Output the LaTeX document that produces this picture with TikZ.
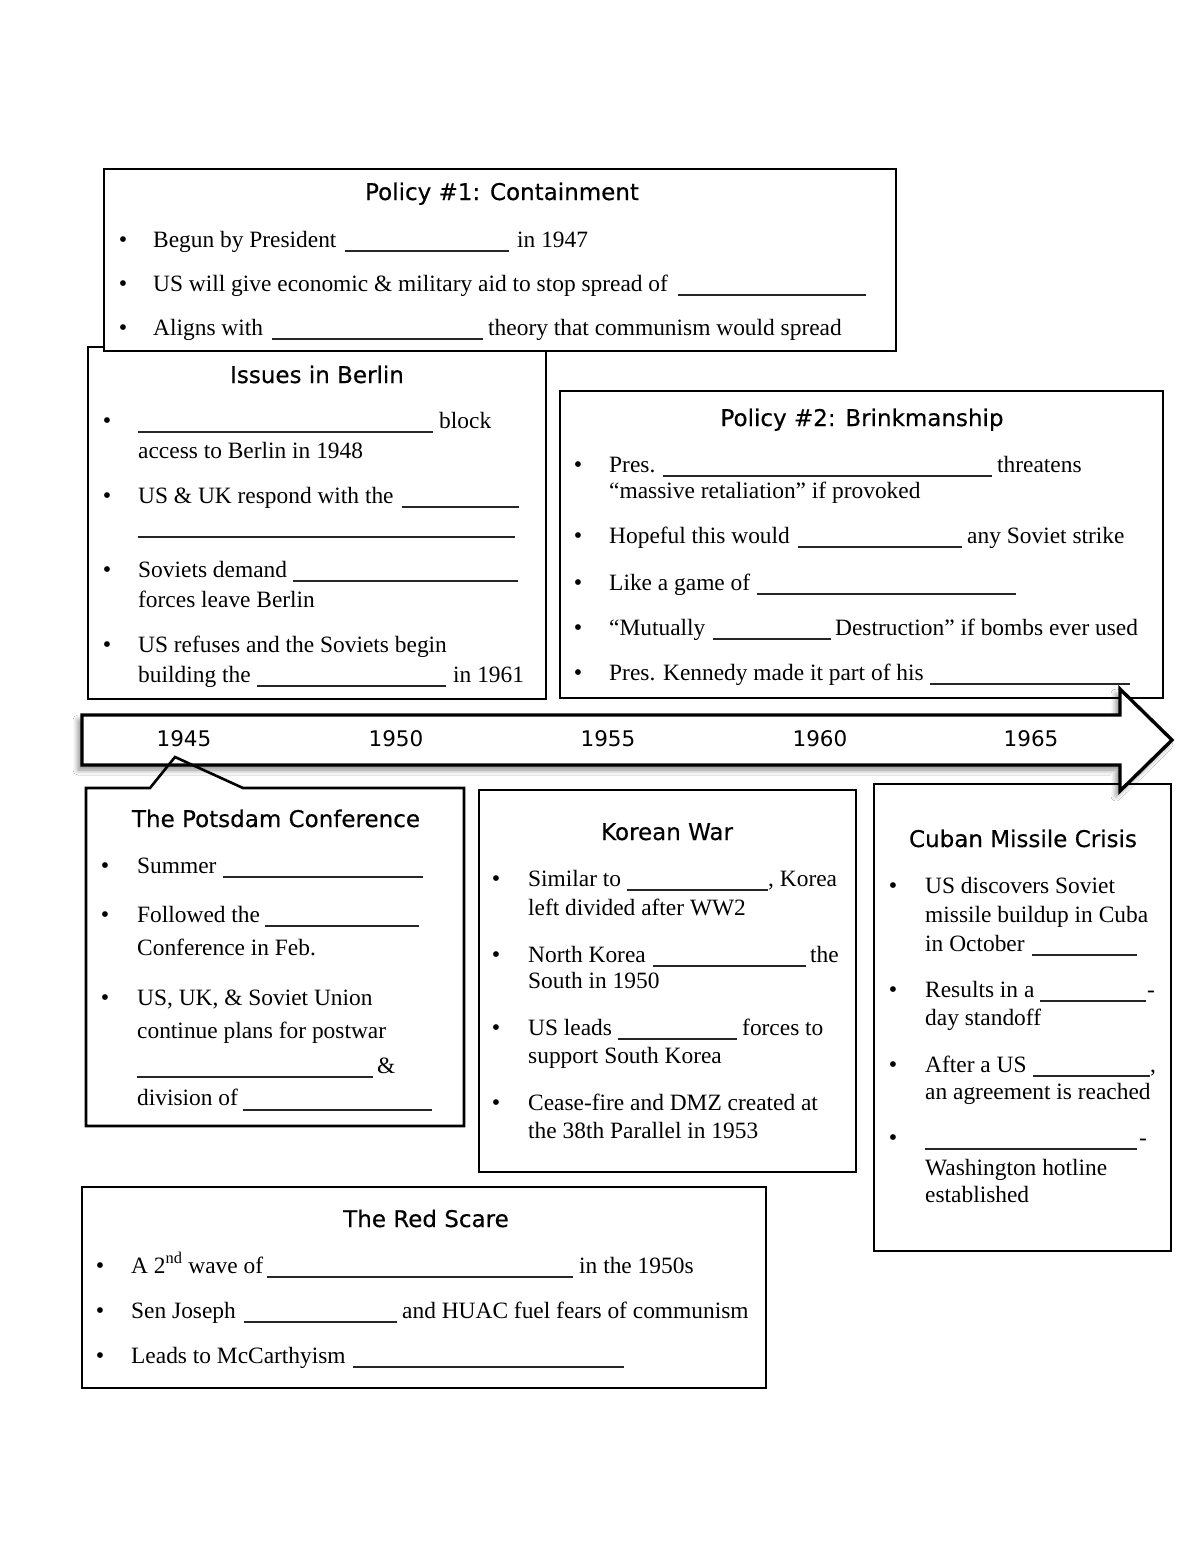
\documentclass[tikz,border=0pt]{standalone}
\usepackage{fontspec}
\setmainfont{Liberation Serif}
\newfontfamily\mySans[FakeBold=0.4]{DejaVu Sans}
\newfontfamily\myYearFam{DejaVu Sans}
\usetikzlibrary{shadows.blur}
\newcommand\myBody{\fontsize{23.4}{27}\selectfont}
\newcommand\myTitle{\mySans\fontsize{23}{27}\selectfont}
\newcommand\myYear{\myYearFam\fontsize{21.5}{26}\selectfont}
\newcommand\myBul{\fontsize{24}{26}\selectfont}
\begin{document}
\begin{tikzpicture}[x=1pt,y=-1pt,
  box/.style={draw=black, line width=2.6pt},
  body/.style={font=\myBody, anchor=base west, inner sep=0pt},
  ttl/.style={font=\myTitle, anchor=base, inner sep=0pt},
  bul/.style={font=\myBul, anchor=base, inner sep=0pt},
  yr/.style={font=\myYear, anchor=base, inner sep=0pt},
  blank/.style={line width=1.4pt, draw=black!85}]
\fill[white] (0,0) rectangle (1200,1553);
\useasboundingbox (0,0) rectangle (1200,1553);

% ---------- Issues in Berlin ----------
\draw[box] (88,347) rectangle (546,699);
\node[ttl] (bt) at (317,383) {Issues in Berlin};
\foreach \yy/\nm in {428/b1,503/b2,577/b3,652/b4} \node[bul] (bb\nm) at (107,\yy) {•};
\draw[blank] (138,432) -- (433,432);
\node[body] (b1a) at (439,428) {block};
\node[body] (b1b) at (138,458) {access to Berlin in 1948};
\node[body] (b2a) at (138,503) {US \& UK respond with the};
\draw[blank] (402,507) -- (519,507);
\draw[blank] (138,537) -- (515,537);
\node[body] (b3a) at (138,577) {Soviets demand};
\draw[blank] (293,581) -- (518,581);
\node[body] (b3b) at (138,607) {forces leave Berlin};
\node[body] (b4a) at (138,652) {US refuses and the Soviets begin};
\node[body] (b4b) at (138,682) {building the};
\draw[blank] (257,686) -- (446,686);
\node[body] (b4c) at (453,682) {in 1961};

% ---------- Policy #1: Containment ----------
\draw[box, fill=white] (104,169) rectangle (896,351);
\node[ttl] (ct) at (502,200) {Policy \#1: Containment};
\foreach \yy/\nm in {247/c1,291/c2,335/c3} \node[bul] (bb\nm) at (123,\yy) {•};
\node[body] (c1a) at (153,247) {Begun by President};
\draw[blank] (345,251) -- (509,251);
\node[body] (c1b) at (517,247) {in 1947};
\node[body] (c2a) at (153,291) {US will give economic \& military aid to stop spread of};
\draw[blank] (678,295) -- (866,295);
\node[body] (c3a) at (153,335) {Aligns with};
\draw[blank] (272,339) -- (483,339);
\node[body] (c3b) at (488,335) {theory that communism would spread};

% ---------- Policy #2: Brinkmanship ----------
\draw[box] (560,391) rectangle (1163,698);
\node[ttl] (pt) at (862,426) {Policy \#2: Brinkmanship};
\foreach \yy/\nm in {472/p1,543/p2,590/p3,635/p4,680/p5} \node[bul] (bb\nm) at (578,\yy) {•};
\node[body] (p1a) at (609,472) {Pres.};
\draw[blank] (663,476) -- (992,476);
\node[body] (p1b) at (997,472) {threatens};
\node[body] (p1c) at (609,498) {“massive retaliation” if provoked};
\node[body] (p2a) at (609,543) {Hopeful this would};
\draw[blank] (798,547) -- (962,547);
\node[body] (p2b) at (967,543) {any Soviet strike};
\node[body] (p3a) at (609,590) {Like a game of};
\draw[blank] (757,594) -- (1016,594);
\node[body] (p4a) at (609,635) {“Mutually};
\draw[blank] (713,639) -- (831,639);
\node[body] (p4b) at (835,635) {Destruction” if bombs ever used};
\node[body] (p5a) at (609,680) {Pres. Kennedy made it part of his};
\draw[blank] (930,684) -- (1130,684);

% ---------- Korean War ----------
\draw[box] (479,790) rectangle (856,1172);
\node[ttl] (kt) at (667,840) {Korean War};
\foreach \yy/\nm in {886/k1,962/k2,1035/k3,1110/k4} \node[bul] (bb\nm) at (496,\yy) {•};
\node[body] (k1a) at (528,886) {Similar to};
\draw[blank] (627,890) -- (768,890);
\node[body] (k1b) at (768,886) {, Korea};
\node[body] (k1c) at (528,915) {left divided after WW2};
\node[body] (k2a) at (528,962) {North Korea};
\draw[blank] (653,966) -- (806,966);
\node[body] (k2b) at (810,962) {the};
\node[body] (k2c) at (528,988) {South in 1950};
\node[body] (k3a) at (528,1035) {US leads};
\draw[blank] (618,1039) -- (737,1039);
\node[body] (k3b) at (742,1035) {forces to};
\node[body] (k3c) at (528,1063) {support South Korea};
\node[body] (k4a) at (528,1110) {Cease-fire and DMZ created at};
\node[body] (k4b) at (528,1138) {the 38th Parallel in 1953};

% ---------- Cuban Missile Crisis ----------
\draw[box] (874,784) rectangle (1171,1251);
\node[ttl] (ut) at (1023,847) {Cuban Missile Crisis};
\foreach \yy/\nm in {893/u1,997/u2,1072/u3,1145/u4} \node[bul] (bb\nm) at (893,\yy) {•};
\node[body] (u1a) at (925,893) {US discovers Soviet};
\node[body] (u1b) at (925,922) {missile buildup in Cuba};
\node[body] (u1c) at (925,951) {in October};
\draw[blank] (1032,955) -- (1137,955);
\node[body] (u2a) at (925,997) {Results in a};
\draw[blank] (1040,1001) -- (1146,1001);
\node[body] (u2b) at (1147,997) {-};
\node[body] (u2c) at (925,1025) {day standoff};
\node[body] (u3a) at (925,1072) {After a US};
\draw[blank] (1033,1076) -- (1150,1076);
\node[body] (u3b) at (1150,1072) {,};
\node[body] (u3c) at (925,1099) {an agreement is reached};
\draw[blank] (925,1149) -- (1137,1149);
\node[body] (u4a) at (1139,1145) {-};
\node[body] (u4b) at (925,1175) {Washington hotline};
\node[body] (u4c) at (925,1202) {established};

% ---------- The Red Scare ----------
\draw[box] (82,1187) rectangle (766,1388);
\node[ttl] (rt) at (426,1227) {The Red Scare};
\foreach \yy/\nm in {1273/r1,1318/r2,1363/r3} \node[bul] (bb\nm) at (100,\yy) {•};
\node[body] (r1a) at (131,1273) {A 2\textsuperscript{nd} wave of};
\draw[blank] (267,1277) -- (573,1277);
\node[body] (r1b) at (579,1273) {in the 1950s};
\node[body] (r2a) at (131,1318) {Sen Joseph};
\draw[blank] (244,1322) -- (397,1322);
\node[body] (r2b) at (402,1318) {and HUAC fuel fears of communism};
\node[body] (r3a) at (131,1363) {Leads to McCarthyism};
\draw[blank] (353,1367) -- (624,1367);

% ---------- Timeline arrow ----------
\draw[line width=3.4pt, fill=white, line join=miter,
  blur shadow={shadow xshift=-4pt, shadow yshift=-5pt, shadow blur radius=5pt, shadow blur steps=8, shadow opacity=45}]
  (82,715) -- (1120,715) -- (1120,689) -- (1172,740) -- (1120,791) -- (1120,765) -- (82,765) -- cycle;
\node[yr] (y45) at (184,746) {1945};
\node[yr] (y50) at (396,746) {1950};
\node[yr] (y55) at (608,746) {1955};
\node[yr] (y60) at (820,746) {1960};
\node[yr] (y65) at (1031,746) {1965};

% ---------- The Potsdam Conference (callout) ----------
\draw[box, line join=miter] (150,788) -- (175,757) -- (243,788) -- (464,788) -- (464,1126) -- (86,1126) -- (86,788) -- cycle;
\node[ttl] (dt) at (276,827) {The Potsdam Conference};
\foreach \yy/\nm in {873/d1,922/d2,1005/d3} \node[bul] (bb\nm) at (105,\yy) {•};
\node[body] (d1a) at (137,873) {Summer};
\draw[blank] (223,877) -- (423,877);
\node[body] (d2a) at (137,922) {Followed the};
\draw[blank] (265,926) -- (419,926);
\node[body] (d2b) at (137,955) {Conference in Feb.};
\node[body] (d3a) at (137,1005) {US, UK, \& Soviet Union};
\node[body] (d3b) at (137,1038) {continue plans for postwar};
\draw[blank] (137,1077) -- (373,1077);
\node[body] (d3c) at (377,1073) {\&};
\node[body] (d3d) at (137,1105) {division of};
\draw[blank] (243,1110) -- (432,1110);
\end{tikzpicture}
\end{document}
